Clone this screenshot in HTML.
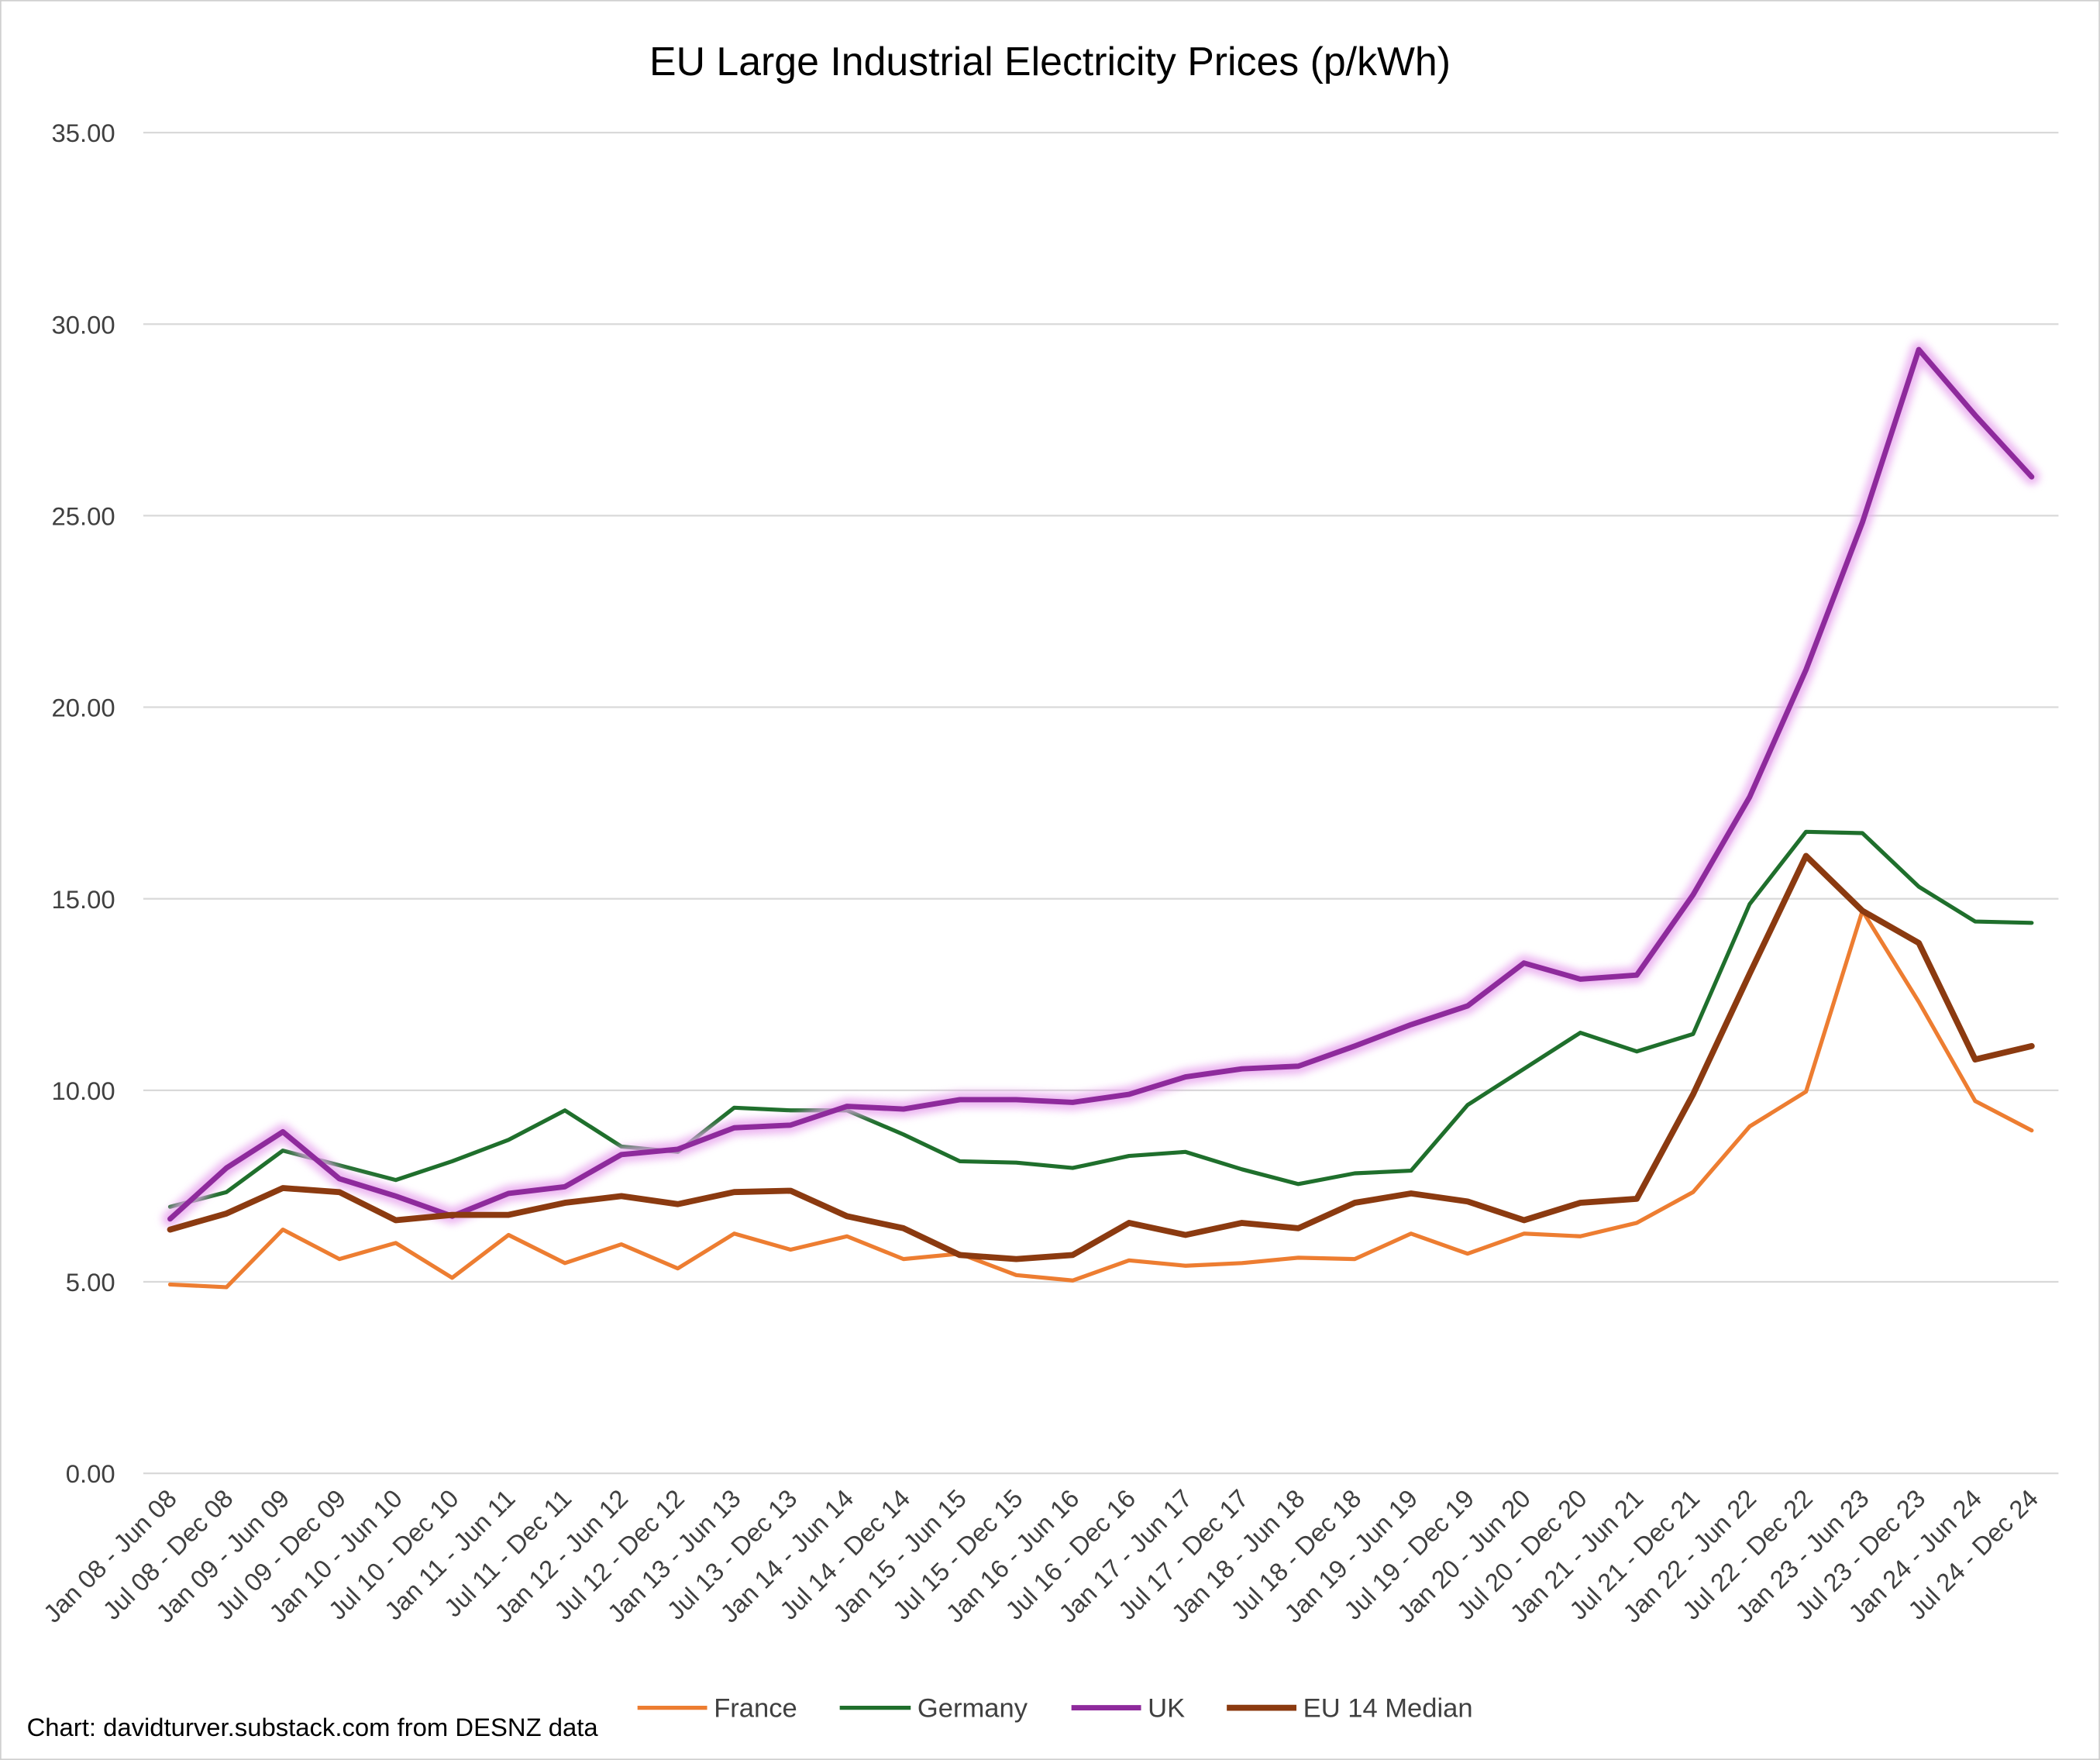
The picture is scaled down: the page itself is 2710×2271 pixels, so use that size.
<!DOCTYPE html>
<html><head><meta charset="utf-8"><style>html,body{margin:0;padding:0;background:#fff}svg{display:block}</style></head>
<body>
<svg width="2710" height="2271" viewBox="0 0 1568 1314" xmlns="http://www.w3.org/2000/svg" font-family="Liberation Sans, sans-serif">
<defs><filter id="g" x="-10%" y="-10%" width="120%" height="120%"><feGaussianBlur stdDeviation="3"/></filter></defs>
<rect x="0.5" y="0.5" width="1567" height="1313" fill="#fff" stroke="#d0d0d0"/>
<text x="784" y="56" font-size="30" text-anchor="middle" fill="#000">EU Large Industrial Electricity Prices (p/kWh)</text>
<g stroke="#d9d9d9" stroke-width="1.3">
<line x1="107" x2="1537" y1="99" y2="99"/><line x1="107" x2="1537" y1="242" y2="242"/><line x1="107" x2="1537" y1="385" y2="385"/><line x1="107" x2="1537" y1="528" y2="528"/><line x1="107" x2="1537" y1="671" y2="671"/><line x1="107" x2="1537" y1="814" y2="814"/><line x1="107" x2="1537" y1="957" y2="957"/><line x1="107" x2="1537" y1="1100" y2="1100"/>
</g>
<g font-size="19" fill="#404040" text-anchor="end">
<text x="86" y="106">35.00</text><text x="86" y="249">30.00</text><text x="86" y="392">25.00</text><text x="86" y="535">20.00</text><text x="86" y="678">15.00</text><text x="86" y="821">10.00</text><text x="86" y="964">5.00</text><text x="86" y="1107">0.00</text>
</g>
<g font-size="19" fill="#404040" text-anchor="end">
<text transform="translate(133,1120) rotate(-45)">Jan 08 - Jun 08</text>
<text transform="translate(175.1,1120) rotate(-45)">Jul 08 - Dec 08</text>
<text transform="translate(217.2,1120) rotate(-45)">Jan 09 - Jun 09</text>
<text transform="translate(259.4,1120) rotate(-45)">Jul 09 - Dec 09</text>
<text transform="translate(301.5,1120) rotate(-45)">Jan 10 - Jun 10</text>
<text transform="translate(343.6,1120) rotate(-45)">Jul 10 - Dec 10</text>
<text transform="translate(385.7,1120) rotate(-45)">Jan 11 - Jun 11</text>
<text transform="translate(427.8,1120) rotate(-45)">Jul 11 - Dec 11</text>
<text transform="translate(470,1120) rotate(-45)">Jan 12 - Jun 12</text>
<text transform="translate(512.1,1120) rotate(-45)">Jul 12 - Dec 12</text>
<text transform="translate(554.2,1120) rotate(-45)">Jan 13 - Jun 13</text>
<text transform="translate(596.3,1120) rotate(-45)">Jul 13 - Dec 13</text>
<text transform="translate(638.4,1120) rotate(-45)">Jan 14 - Jun 14</text>
<text transform="translate(680.6,1120) rotate(-45)">Jul 14 - Dec 14</text>
<text transform="translate(722.7,1120) rotate(-45)">Jan 15 - Jun 15</text>
<text transform="translate(764.8,1120) rotate(-45)">Jul 15 - Dec 15</text>
<text transform="translate(806.9,1120) rotate(-45)">Jan 16 - Jun 16</text>
<text transform="translate(849,1120) rotate(-45)">Jul 16 - Dec 16</text>
<text transform="translate(891.2,1120) rotate(-45)">Jan 17 - Jun 17</text>
<text transform="translate(933.3,1120) rotate(-45)">Jul 17 - Dec 17</text>
<text transform="translate(975.4,1120) rotate(-45)">Jan 18 - Jun 18</text>
<text transform="translate(1017.5,1120) rotate(-45)">Jul 18 - Dec 18</text>
<text transform="translate(1059.6,1120) rotate(-45)">Jan 19 - Jun 19</text>
<text transform="translate(1101.8,1120) rotate(-45)">Jul 19 - Dec 19</text>
<text transform="translate(1143.9,1120) rotate(-45)">Jan 20 - Jun 20</text>
<text transform="translate(1186,1120) rotate(-45)">Jul 20 - Dec 20</text>
<text transform="translate(1228.1,1120) rotate(-45)">Jan 21 - Jun 21</text>
<text transform="translate(1270.2,1120) rotate(-45)">Jul 21 - Dec 21</text>
<text transform="translate(1312.4,1120) rotate(-45)">Jan 22 - Jun 22</text>
<text transform="translate(1354.5,1120) rotate(-45)">Jul 22 - Dec 22</text>
<text transform="translate(1396.6,1120) rotate(-45)">Jan 23 - Jun 23</text>
<text transform="translate(1438.7,1120) rotate(-45)">Jul 23 - Dec 23</text>
<text transform="translate(1480.8,1120) rotate(-45)">Jan 24 - Jun 24</text>
<text transform="translate(1523,1120) rotate(-45)">Jul 24 - Dec 24</text>
</g>
<g fill="none" stroke-linejoin="round" stroke-linecap="round">
<polyline stroke="#ED7D31" stroke-width="3" points="127,959 169.1,961 211.2,918 253.4,940 295.5,928 337.6,954 379.7,922 421.8,943 464,929 506.1,947 548.2,921 590.3,933 632.4,923 674.6,940 716.7,936 758.8,952 800.9,956 843,941 885.2,945 927.3,943 969.4,939 1011.5,940 1053.6,921 1095.8,936 1137.9,921 1180,923 1222.1,913 1264.2,890 1306.4,841 1348.5,815 1390.6,680 1432.7,748 1474.8,822 1517,844"/>
<polyline stroke="#1F6F2C" stroke-width="3" points="127,901 169.1,890 211.2,859 253.4,870 295.5,881 337.6,867 379.7,851 421.8,829 464,856 506.1,860 548.2,827 590.3,829 632.4,829 674.6,847 716.7,867 758.8,868 800.9,872 843,863 885.2,860 927.3,873 969.4,884 1011.5,876 1053.6,874 1095.8,825 1137.9,798 1180,771 1222.1,785 1264.2,772 1306.4,675 1348.5,621 1390.6,622 1432.7,662 1474.8,688 1517,689"/>
<polyline stroke="#E8A6EE" stroke-width="12" opacity="0.8" filter="url(#g)" points="127,910 169.1,872 211.2,845 253.4,880 295.5,893 337.6,908 379.7,891 421.8,886 464,862 506.1,858 548.2,842 590.3,840 632.4,826 674.6,828 716.7,821 758.8,821 800.9,823 843,817 885.2,804 927.3,798 969.4,796 1011.5,781 1053.6,765 1095.8,751 1137.9,719 1180,731 1222.1,728 1264.2,668 1306.4,595 1348.5,500 1390.6,390 1432.7,261 1474.8,310 1517,356"/>
<polyline stroke="#8E2A9C" stroke-width="4" points="127,910 169.1,872 211.2,845 253.4,880 295.5,893 337.6,908 379.7,891 421.8,886 464,862 506.1,858 548.2,842 590.3,840 632.4,826 674.6,828 716.7,821 758.8,821 800.9,823 843,817 885.2,804 927.3,798 969.4,796 1011.5,781 1053.6,765 1095.8,751 1137.9,719 1180,731 1222.1,728 1264.2,668 1306.4,595 1348.5,500 1390.6,390 1432.7,261 1474.8,310 1517,356"/>
<polyline stroke="#8B3A10" stroke-width="4.5" points="127,918 169.1,906 211.2,887 253.4,890 295.5,911 337.6,907 379.7,907 421.8,898 464,893 506.1,899 548.2,890 590.3,889 632.4,908 674.6,917 716.7,937 758.8,940 800.9,937 843,913 885.2,922 927.3,913 969.4,917 1011.5,898 1053.6,891 1095.8,897 1137.9,911 1180,898 1222.1,895 1264.2,817 1306.4,727 1348.5,639 1390.6,680 1432.7,704 1474.8,791 1517,781"/>
</g>
<g font-size="20" fill="#404040">
<line x1="476" x2="528" y1="1275" y2="1275" stroke="#ED7D31" stroke-width="3"/><text x="533" y="1282">France</text>
<line x1="627" x2="680" y1="1275" y2="1275" stroke="#1F6F2C" stroke-width="3"/><text x="685" y="1282">Germany</text>
<line x1="800" x2="852" y1="1275" y2="1275" stroke="#8E2A9C" stroke-width="4"/><text x="857" y="1282">UK</text>
<line x1="916" x2="968" y1="1275" y2="1275" stroke="#8B3A10" stroke-width="4.5"/><text x="973" y="1282">EU 14 Median</text>
</g>
<text x="20" y="1296" font-size="19" fill="#000">Chart: davidturver.substack.com from DESNZ data</text>
</svg>
</body></html>
